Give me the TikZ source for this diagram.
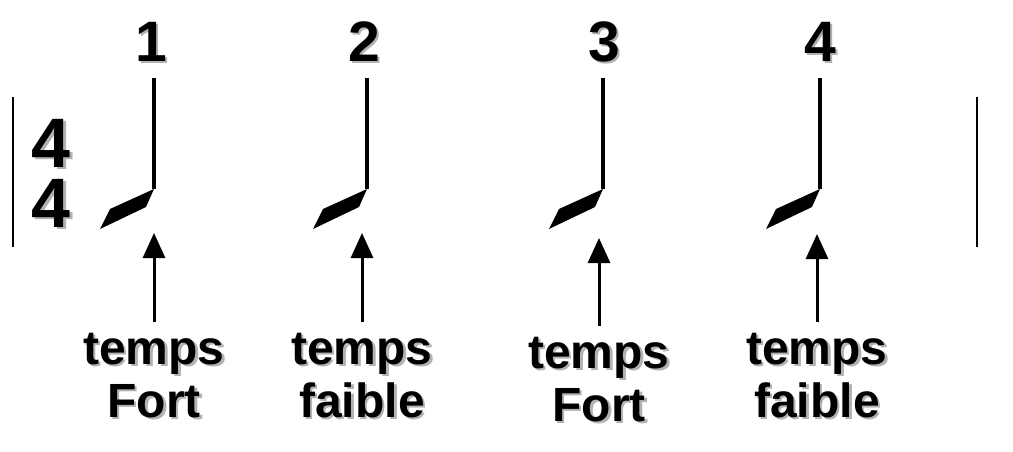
\documentclass[tikz,border=0pt]{standalone}
\usepackage{fontspec}
\setmainfont{Liberation Sans}
\usetikzlibrary{arrows.meta}
\newcommand\shtext[1]{\makebox[0pt][l]{\hspace{2.5pt}\raisebox{-2.5pt}{\textcolor{black!30}{#1}}}#1}
\tikzset{
  beat/.style={font=\fontsize{48}{53}\selectfont\bfseries, align=center, inner sep=0pt, outer sep=11pt},
  count/.style={font=\fontsize{57}{60}\selectfont\bfseries, anchor=base, inner sep=0pt},
  meter/.style={font=\fontsize{70}{70}\selectfont\bfseries, anchor=base, inner sep=0pt},
  arr/.style={line width=3pt, -{Triangle[length=25pt,width=22pt]}}
}
\begin{document}
\begin{tikzpicture}[x=1pt,y=-1pt]
    \useasboundingbox (0,0) rectangle (1013,451);
    \draw[line width=2pt] (13,97)--(13,247);
    \draw[line width=2pt] (977,97)--(977,247);
    \node[meter] (m1) at (51,167) {\shtext{4}};
    \node[meter] (m2) at (51,227) {\shtext{4}};
    % notes
    \coordinate (h1) at (154,189);
    \coordinate (h2) at (367,189);
    \coordinate (h3) at (603,189);
    \coordinate (h4) at (820,189);
    \draw[line width=3.5pt] (154,78)--(h1);
    \draw[line width=3.5pt] (367,78)--(h2);
    \draw[line width=3.5pt] (603,78)--(h3);
    \draw[line width=3.5pt] (820,78)--(h4);
    \fill (h1) -- ++(-8,18) -- ++(-46,22) -- ++(10,-20) -- cycle;
    \fill (h2) -- ++(-8,18) -- ++(-46,22) -- ++(10,-20) -- cycle;
    \fill (h3) -- ++(-8,18) -- ++(-46,22) -- ++(10,-20) -- cycle;
    \fill (h4) -- ++(-8,18) -- ++(-46,22) -- ++(10,-20) -- cycle;
    \node[count] (n1) at (151,61) {\shtext{1}};
    \node[count] (n2) at (364,61) {\shtext{2}};
    \node[count] (n3) at (604,61) {\shtext{3}};
    \node[count] (n4) at (820,61) {\shtext{4}};
    % beats
    \coordinate (a1) at (154,233);
    \coordinate (a2) at (362,233);
    \coordinate (a3) at (599,238);
    \coordinate (a4) at (817,234);
    \node[beat, anchor=north] (t1) at (154,322) {\shtext{temps}\\\shtext{Fort}};
    \node[beat, anchor=north] (t2) at (362,322) {\shtext{temps}\\\shtext{faible}};
    \node[beat, anchor=north] (t3) at (599,326) {\shtext{temps}\\\shtext{Fort}};
    \node[beat, anchor=north] (t4) at (817,322) {\shtext{temps}\\\shtext{faible}};
    \draw[arr] (t1)--(a1);
    \draw[arr] (t2)--(a2);
    \draw[arr] (t3)--(a3);
    \draw[arr] (t4)--(a4);
\end{tikzpicture}
\end{document}
